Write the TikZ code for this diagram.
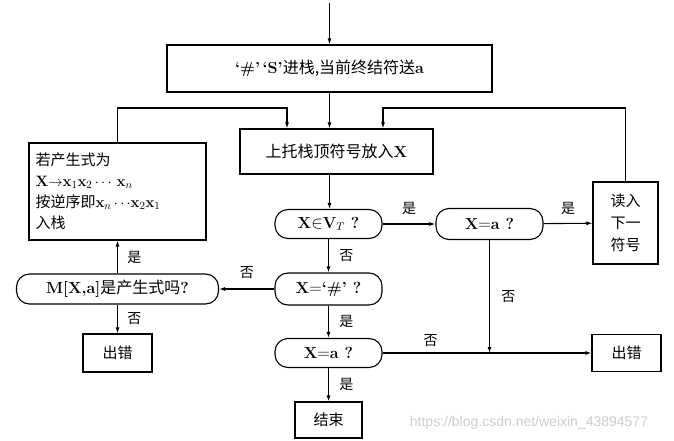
\documentclass[tikz,border=0pt]{standalone}
\usepackage{fontspec}
\newfontfamily\cjk{Noto Sans CJK SC}
\newfontfamily\wmfont{Liberation Sans}
\newcommand{\zh}[1]{{\cjk\mdseries #1}}
\usetikzlibrary{arrows.meta}

\begin{document}
\begin{tikzpicture}[x=1pt,y=-1pt,
  proc/.style={draw, line width=1.1pt, inner sep=0pt, font=\bfseries\fontsize{16}{18}\selectfont},
  cond/.style={draw, line width=1.1pt, rounded corners=13pt, inner sep=0pt, font=\bfseries\fontsize{16}{18}\selectfont},
  lbl/.style={font=\cjk\fontsize{14}{16}\selectfont},
  >={Latex[length=6pt,width=4pt]}]
\useasboundingbox (0,0) rectangle (674,441);

\node[proc, minimum width=325pt, minimum height=47pt] (init) at (329.5,68.5) {`\#'\,`S'\zh{进栈,当前终结符送}a};
\node[proc, minimum width=193pt, minimum height=45pt] (top) at (336.5,151.5) {\zh{上托栈顶符号放入}X};
\node[proc, minimum width=177pt, minimum height=97pt, text width=164pt, align=left,
  font=\bfseries\fontsize{15}{21}\selectfont] (prod) at (117.5,191.5)
  {\zh{若产生式为}\\X$\rightarrow$x$_1$x$_2\cdots$ x$_n$\\\zh{按逆序即}x$_n\cdots$x$_2$x$_1$\\\zh{入栈}};
\node[cond, minimum width=107pt, minimum height=29pt] (invt) at (328.5,224) {X$\in$V$_T$ ?};
\node[cond, minimum width=107pt, minimum height=31pt] (eqa) at (489.5,224) {X$=$a ?};
\node[proc, minimum width=65pt, minimum height=82pt, align=center,
  font=\cjk\fontsize{15}{22}\selectfont] (read) at (625.5,223) {读入\\下一\\符号};
\node[cond, minimum width=202pt, minimum height=30pt] (ism) at (117.5,289) {M[X,a]\zh{是产生式吗}?};
\node[cond, minimum width=107pt, minimum height=32pt] (eqh) at (328.5,289) {X$=$`\#' ?};
\node[proc, minimum width=69pt, minimum height=38pt, font=\cjk\fontsize{15}{18}\selectfont] (errl) at (117.5,353) {出错};
\node[cond, minimum width=107pt, minimum height=29pt] (eqb) at (328.5,353) {X$=$a ?};
\node[proc, minimum width=69pt, minimum height=37pt, font=\cjk\fontsize{15}{18}\selectfont] (errr) at (626.5,353) {出错};
\node[proc, minimum width=67pt, minimum height=36pt, font=\cjk\fontsize{15}{18}\selectfont] (stop) at (328.5,420) {结束};

\node[font=\wmfont\fontsize{14}{14}\selectfont, text=gray!40] (mark) at (529,423) {https://blog.csdn.net/weixin\_43894577};

\coordinate (start) at (329.5,3);
\coordinate (lj) at (287,108);
\coordinate (rj) at (383,108);
\coordinate (jn) at (eqa |- errr);

\begin{scope}[line width=1.1pt]
\draw[->] (start) -- (init);
\draw[->] (init) -- (init |- top.north);
\draw[->] (prod.north) |- (lj) -- (lj |- top.north);
\draw[->] (read.north) |- (rj) -- (rj |- top.north);
\draw[->] (init |- top.south) -- (init |- invt.north);
\draw[->] (invt) -- node[lbl, right=7pt] {否} (eqh);
\draw[->] (invt) -- node[lbl, above=5pt] {是} (eqa);
\draw[->] (eqa) -- node[lbl, above=5pt] {是} (read);
\draw[->] (eqh) -- node[lbl, above=6pt] {否} (ism);
\draw[->] (ism) -- node[lbl, right=6pt] {是} (prod);
\draw[->] (ism) -- node[lbl, right=6pt] {否} (errl);
\draw[->] (eqh) -- node[lbl, right=7pt] {是} (eqb);
\draw[->] (eqb) -- node[lbl, right=7pt] {是} (stop);
\draw[->] (eqb) -- node[lbl, above=3pt, pos=0.23] {否} (errr);
\draw[->] (eqa) -- node[lbl, right=8pt] {否} (jn);
\end{scope}

\end{tikzpicture}
\end{document}
